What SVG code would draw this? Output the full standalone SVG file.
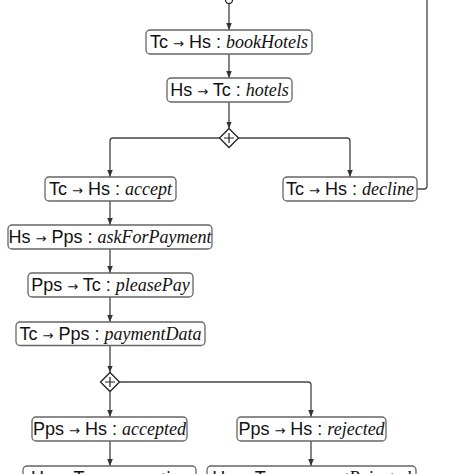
<svg xmlns="http://www.w3.org/2000/svg" width="474" height="474" viewBox="0 0 474 474">
<defs>
<marker id="arr" viewBox="0 0 8 8" refX="8" refY="4" markerWidth="7" markerHeight="7" markerUnits="userSpaceOnUse" orient="auto">
<path d="M0,0.8 L8,4 L0,7.2 Z" fill="#333"/>
</marker>
<style>
.box{fill:#fff;stroke:#666;stroke-width:1.3}
.c{fill:none;stroke:#444;stroke-width:1.3}
.gw{fill:#fff;stroke:#222;stroke-width:1.3}
text{font-size:18px;fill:#111;text-anchor:middle}
.r{font-family:"Liberation Sans","DejaVu Sans",sans-serif}
.m{font-family:"Liberation Serif","DejaVu Serif",serif;font-style:italic}
.a{font-family:"DejaVu Sans",sans-serif;font-size:13px}
</style>
</defs>
<rect width="474" height="474" fill="#fff"/>
<g id="connectors">
<circle cx="229" cy="0" r="3.5" class="gw"/>
<path class="c" d="M229,3.5 V30" marker-end="url(#arr)"/>
<path class="c" d="M229,54 V78" marker-end="url(#arr)"/>
<path class="c" d="M229,102 V128.5" marker-end="url(#arr)"/>
<path class="c" d="M219.5,138 H113 Q110,138 110,141 V177" marker-end="url(#arr)"/>
<path class="c" d="M238.5,138 H347 Q350,138 350,141 V177" marker-end="url(#arr)"/>
<path class="c" d="M417,189 H424 Q427,189 427,186 V-5"/>
<path class="c" d="M110,201 V225" marker-end="url(#arr)"/>
<path class="c" d="M110,249 V273" marker-end="url(#arr)"/>
<path class="c" d="M110,297 V322" marker-end="url(#arr)"/>
<path class="c" d="M110,345 V372.5" marker-end="url(#arr)"/>
<path class="c" d="M110,391.5 V417" marker-end="url(#arr)"/>
<path class="c" d="M119.5,382 H308 Q311,382 311,385 V417" marker-end="url(#arr)"/>
<path class="c" d="M110,441 V466" marker-end="url(#arr)"/>
<path class="c" d="M311,441 V466" marker-end="url(#arr)"/>
</g>
<g id="gw1">
<path class="gw" d="M229,128.5 L238.5,138 L229,147.5 L219.5,138 Z"/>
<path d="M229,133 V143 M224,138 H234" stroke="#222" stroke-width="1.2"/>
</g>
<g id="gw2">
<path class="gw" d="M110,372.5 L119.5,382 L110,391.5 L100.5,382 Z"/>
<path d="M110,377 V387 M105,382 H115" stroke="#222" stroke-width="1.2"/>
</g>
<g id="bookHotels">
<rect class="box" x="146" y="30" width="166" height="24" rx="4"/>
<text x="229" y="48"><tspan class="r">Tc <tspan class="a">→</tspan> Hs : </tspan><tspan class="m">bookHotels</tspan></text>
</g>
<g id="hotels">
<rect class="box" x="167" y="78" width="125" height="24" rx="4"/>
<text x="229.5" y="96"><tspan class="r">Hs <tspan class="a">→</tspan> Tc : </tspan><tspan class="m">hotels</tspan></text>
</g>
<g id="accept">
<rect class="box" x="45" y="177" width="131" height="24" rx="4"/>
<text x="110.5" y="195"><tspan class="r">Tc <tspan class="a">→</tspan> Hs : </tspan><tspan class="m">accept</tspan></text>
</g>
<g id="decline">
<rect class="box" x="283" y="177" width="134" height="24" rx="4"/>
<text x="350" y="195"><tspan class="r">Tc <tspan class="a">→</tspan> Hs : </tspan><tspan class="m">decline</tspan></text>
</g>
<g id="askForPayment">
<rect class="box" x="8" y="225" width="204" height="24" rx="4"/>
<text x="110" y="243"><tspan class="r">Hs <tspan class="a">→</tspan> Pps : </tspan><tspan class="m">askForPayment</tspan></text>
</g>
<g id="pleasePay">
<rect class="box" x="28" y="273" width="165" height="24" rx="4"/>
<text x="110.5" y="291"><tspan class="r">Pps <tspan class="a">→</tspan> Tc : </tspan><tspan class="m">pleasePay</tspan></text>
</g>
<g id="paymentData">
<rect class="box" x="16" y="322" width="189" height="23.5" rx="4"/>
<text x="110.5" y="340"><tspan class="r">Tc <tspan class="a">→</tspan> Pps : </tspan><tspan class="m">paymentData</tspan></text>
</g>
<g id="accepted">
<rect class="box" x="32" y="417" width="155" height="24" rx="4"/>
<text x="109.5" y="435"><tspan class="r">Pps <tspan class="a">→</tspan> Hs : </tspan><tspan class="m">accepted</tspan></text>
</g>
<g id="rejected">
<rect class="box" x="237" y="417" width="149" height="24" rx="4"/>
<text x="311.5" y="435"><tspan class="r">Pps <tspan class="a">→</tspan> Hs : </tspan><tspan class="m">rejected</tspan></text>
</g>
<g id="reservation">
<rect class="box" x="23" y="466" width="173" height="24" rx="4"/>
<text x="109.5" y="484"><tspan class="r">Hs <tspan class="a">→</tspan> Tc : </tspan><tspan class="m">reservation</tspan></text>
</g>
<g id="paymentRejected">
<rect class="box" x="207" y="466" width="209" height="24" rx="4"/>
<text x="311.5" y="484"><tspan class="r">Hs <tspan class="a">→</tspan> Tc : </tspan><tspan class="m">paymentRejected</tspan></text>
</g>
</svg>
